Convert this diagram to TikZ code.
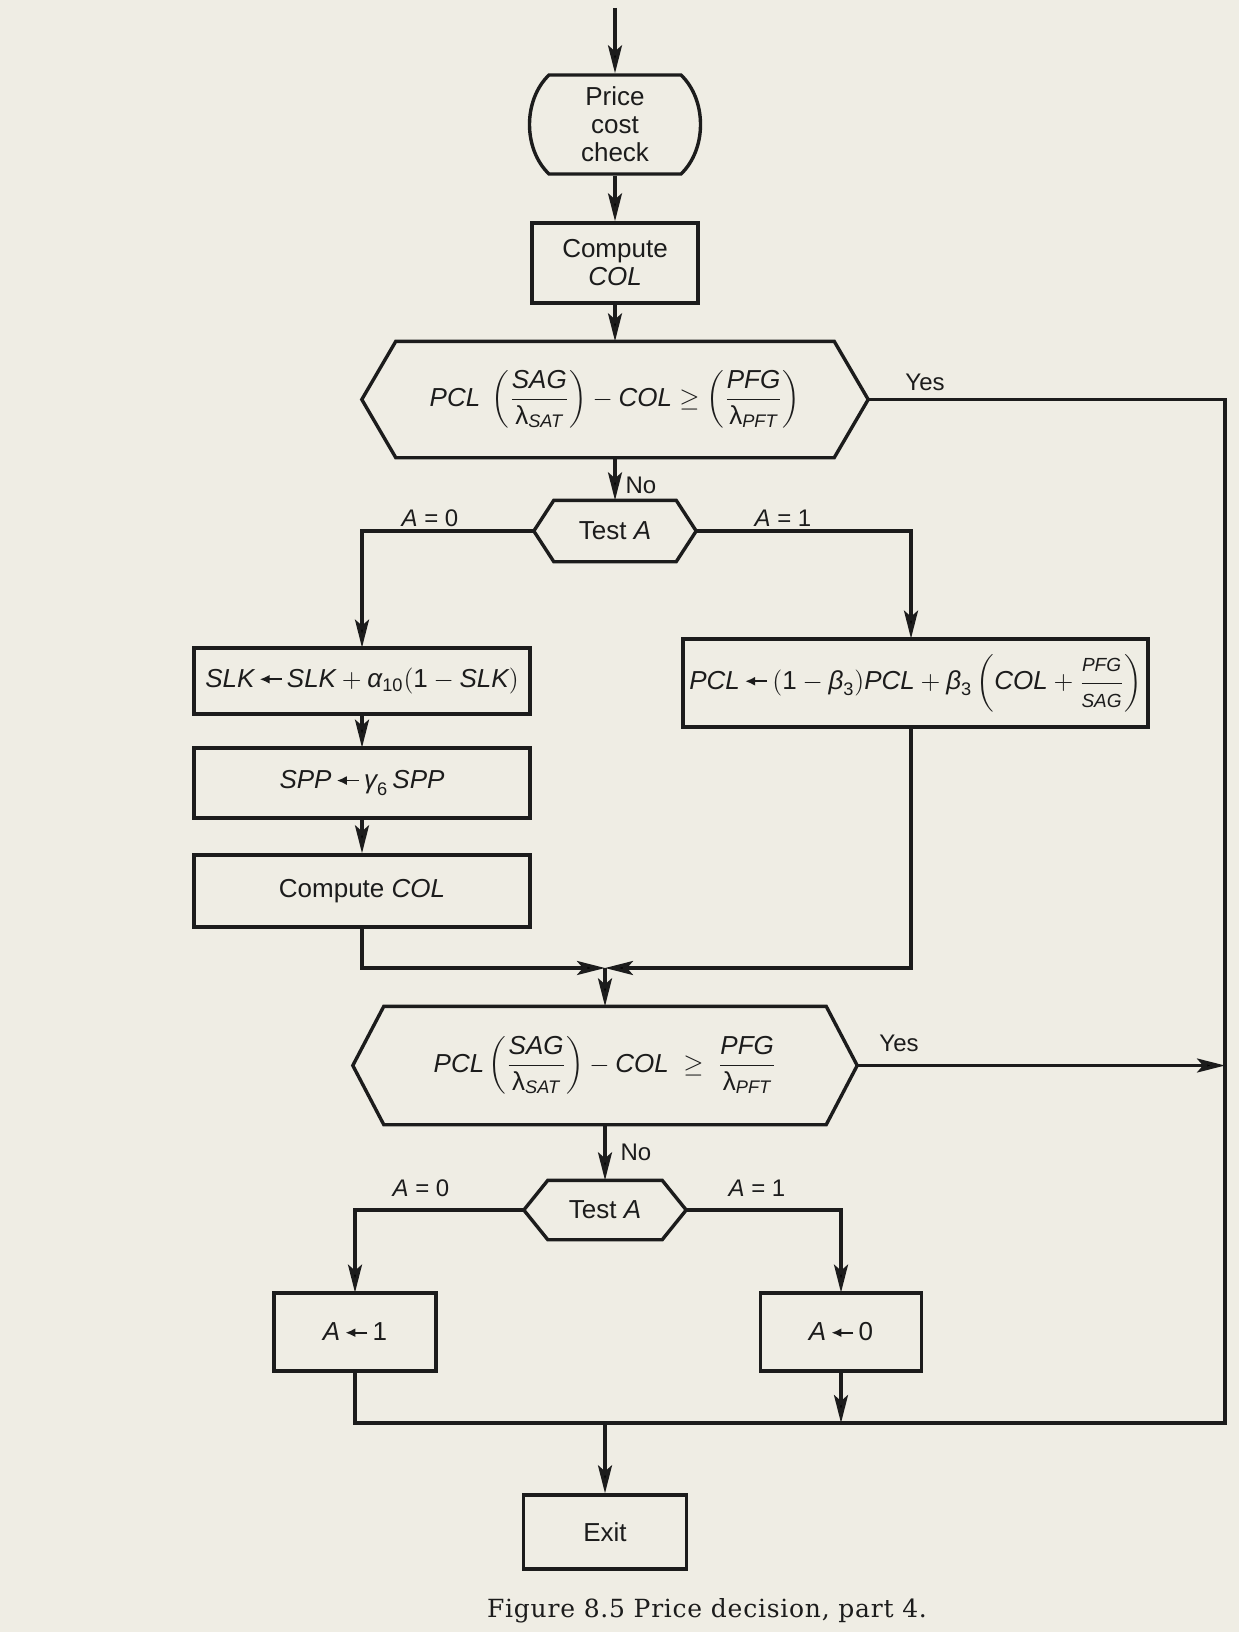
\RequirePackage{fix-cm}
\documentclass[tikz,border=0pt]{standalone}
\usepackage{amsmath}
\usepackage{fontspec}
\setmainfont{Liberation Sans}
\newfontfamily\capfont[LetterSpace=3]{DejaVu Serif}
\usetikzlibrary{arrows.meta,calc}
\definecolor{paper}{RGB}{239,237,228}
\definecolor{ink}{RGB}{28,28,28}
\newcommand\vv[1]{\textit{#1}}
\newcommand\gk[1]{\text{\itshape #1}}
\newcommand\sm[1]{\text{\fontsize{9.5}{10}\selectfont\itshape #1}}
\newcommand\larr{\mathord{\,\tikz[baseline=-0.6ex, x=1pt, y=1pt]\draw[line width=0.9pt, -{Latex[length=5pt,width=4.5pt]}] (11,0) -- (0,0);\,}}
\newcommand\nodefont{\fontsize{13}{14}\selectfont}
\newcommand\lblfont{\fontsize{12}{13}\selectfont}
\newcommand\hexpath[2]{\draw (#1.west) -- ([xshift=#2]#1.north west) -- ([xshift=-#2]#1.north east) -- (#1.east) -- ([xshift=-#2]#1.south east) -- ([xshift=#2]#1.south west) -- cycle;}
\begin{document}
\begin{tikzpicture}[x=0.5pt,y=-0.5pt, line width=1.7pt, draw=ink, text=ink,
  arr/.style={-{Stealth[length=14pt,width=7pt,inset=3pt]}},
  box/.style={draw, rectangle, inner sep=0pt, align=center, font=\nodefont},
  shp/.style={draw=none, inner sep=0pt, align=center, font=\nodefont},
  lbl/.style={font=\lblfont, inner sep=0pt}]
\fill[paper] (0,0) rectangle (1239,1632);
\useasboundingbox (0,0) rectangle (1239,1632);

% upper column
\coordinate (start) at (615,8);
\node[shp, minimum width=84.5pt, minimum height=49.5pt] (pcc) at (615,124.5) {Price\\cost\\check};
\draw (549,75) -- (681,75) .. controls (707,100) and (707,149) .. (681,174) -- (549,174) .. controls (523,149) and (523,100) .. (549,75) -- cycle;
\node[box, minimum width=83pt, minimum height=40pt] (comp1) at (615,263) {Compute\\\textit{COL}};
\node[shp, minimum width=251.5pt, minimum height=56.5pt] (dec1) at (615,399.5)
  {$\vv{PCL}\;\left(\dfrac{\vv{SAG}}{\text{λ}_{\vv{SAT}}}\right)-\vv{COL}\geq\left(\dfrac{\vv{PFG}}{\text{λ}_{\vv{PFT}}}\right)$};
\hexpath{dec1}{17pt}
\node[shp, minimum width=79.5pt, minimum height=29pt] (tA1) at (615,531) {Test \textit{A}};
\hexpath{tA1}{10pt}

% left branch
\node[box, minimum width=168pt, minimum height=33pt] (slk) at (362,681)
  {$\vv{SLK}\larr\vv{SLK}+\gk{α}_{\text{10}}(\text{1}-\vv{SLK})$};
\node[box, minimum width=168pt, minimum height=35pt] (spp) at (362,783)
  {$\vv{SPP}\larr\gk{γ}_{\text{6}}\,\vv{SPP}$};
\node[box, minimum width=168pt, minimum height=36pt] (comp2) at (362,891) {Compute \textit{COL}};

% right branch
\coordinate (r1) at (911,683);
\node[box, minimum width=232.5pt, minimum height=44pt] (pcl) at (915.5,683)
  {$\vv{PCL}\larr(\text{1}-\gk{β}_{\text{3}})\vv{PCL}+\gk{β}_{\text{3}}\left(\vv{COL}+\dfrac{\sm{PFG}}{\sm{SAG}}\right)$};

% merge
\coordinate (m1) at (605,968);

% lower column
\node[shp, minimum width=250.5pt, minimum height=57.5pt] (dec2) at (605,1065.5)
  {$\vv{PCL}\left(\dfrac{\vv{SAG}}{\text{λ}_{\vv{SAT}}}\right)-\vv{COL}\;\geq\;\dfrac{\vv{PFG}}{\text{λ}_{\vv{PFT}}}$};
\hexpath{dec2}{15.5pt}
\node[shp, minimum width=79.5pt, minimum height=28pt] (tA2) at (605,1210) {Test \textit{A}};
\hexpath{tA2}{12pt}
\node[box, minimum width=81pt, minimum height=39pt] (a1) at (355,1332) {$\vv{A}\larr\text{1}$};
\node[box, minimum width=80.5pt, minimum height=39pt] (a0) at (841,1332) {$\vv{A}\larr\text{0}$};
\coordinate (vr) at (1225,1423);
\coordinate (m2) at (605,1423);
\node[box, minimum width=81.5pt, minimum height=37pt] (exit) at (605,1532) {Exit};

% connectors
\draw[arr] (start) -- (pcc.north);
\draw[arr] (pcc.south) -- (comp1.north);
\draw[arr] (comp1.south) -- (dec1.north);
\draw[arr] (dec1.south) -- (tA1.north);
\draw[arr] (tA1.west) -| (slk.north);
\draw[arr] (slk.south) -- (spp.north);
\draw[arr] (spp.south) -- (comp2.north);
\draw[arr] (tA1.east) -| (r1 |- pcl.north);
\draw[arr] (comp2.south) |- (m1);
\draw[arr] (r1 |- pcl.south) |- (m1);
\draw[arr] (m1) -- (dec2.north);
\draw[arr] (dec2.south) -- (tA2.north);
\draw[arr] (tA2.west) -| (a1.north);
\draw[arr] (tA2.east) -| (a0.north);
\draw (a1.south) |- (vr) -- (vr |- dec1.east) -- (dec1.east);
\draw[arr] (a0.south) -- (a0.south |- vr);
\draw[arr] (dec2.east) -- (dec2.east -| vr);
\draw[arr] (m2) -- (exit.north);

% labels
\node[lbl] (yes1) at (925,382) {Yes};
\node[lbl] (no1) at (641,485) {No};
\node[lbl] (a01) at (430,518) {\textit{A} = 0};
\node[lbl] (a11) at (783,518) {\textit{A} = 1};
\node[lbl] (yes2) at (899,1043) {Yes};
\node[lbl] (no2) at (636,1152) {No};
\node[lbl] (a02) at (421,1188) {\textit{A} = 0};
\node[lbl] (a12) at (757,1188) {\textit{A} = 1};
\node[font=\capfont\fontsize{12.5}{13}\selectfont, inner sep=0pt] (cap) at (707,1611) {Figure 8.5 Price decision, part 4.};
\end{tikzpicture}
\end{document}
